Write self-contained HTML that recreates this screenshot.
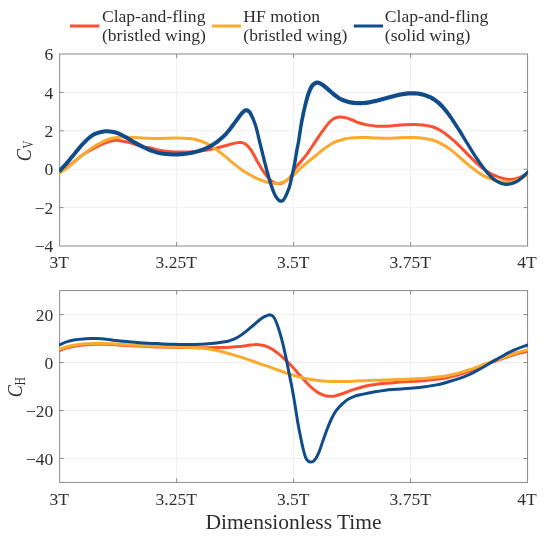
<!DOCTYPE html>
<html><head><meta charset="utf-8"><title>Force coefficients</title>
<style>html,body{margin:0;padding:0;background:#fff}svg{display:block}text{font-family:"Liberation Serif","Times New Roman",serif;fill:#2e2e2e}</style></head>
<body>
<svg width="550" height="537" viewBox="0 0 550 537">
<rect width="550" height="537" fill="#fff"/>
<clipPath id="c1"><rect x="59.15" y="53.50" width="468.90" height="193.00"/></clipPath>
<path d="M176.62,54.0V246.0M293.60,54.0V246.0M410.57,54.0V246.0M59.65,92.40H527.55M59.65,130.80H527.55M59.65,169.20H527.55M59.65,207.60H527.55" stroke="#f0f0f0" stroke-width="1" fill="none"/>
<rect x="59.65" y="54.0" width="467.9" height="192.0" fill="none" stroke="#8a8a8a" stroke-width="1"/>
<path d="M176.62,246.0v-4M176.62,54.0v4M293.60,246.0v-4M293.60,54.0v4M410.57,246.0v-4M410.57,54.0v4M59.65,92.40h4M527.55,92.40h-4M59.65,130.80h4M527.55,130.80h-4M59.65,169.20h4M527.55,169.20h-4M59.65,207.60h4M527.55,207.60h-4" stroke="#8a8a8a" stroke-width="1" fill="none"/>
<g clip-path="url(#c1)" fill="none" stroke-linejoin="round" stroke-linecap="round">
<path d="M58.0,173.2C58.2,173.1 58.2,173.1 59.5,172.3C60.8,171.5 63.6,169.9 66.0,168.2C68.3,166.5 70.8,164.5 73.6,162.2C76.4,159.9 79.8,156.8 82.9,154.6C86.0,152.5 89.1,151.0 92.2,149.3C95.3,147.6 98.5,145.7 101.6,144.4C104.7,143.0 108.4,141.7 110.9,141.0C113.4,140.3 114.0,140.2 116.5,140.3C119.0,140.4 122.7,141.1 125.8,141.8C128.9,142.5 132.0,143.3 135.1,144.2C138.2,145.1 141.9,146.6 144.4,147.2C146.9,147.8 147.5,147.3 150.0,147.8C152.5,148.3 156.2,149.7 159.3,150.3C162.4,150.9 165.5,151.3 168.6,151.6C171.7,151.9 174.8,151.9 177.9,152.0C181.0,152.1 184.1,152.1 187.2,152.0C190.3,151.9 193.5,151.5 196.6,151.2C199.7,150.9 202.8,150.8 205.9,150.3C209.0,149.8 212.1,149.1 215.2,148.4C218.3,147.7 221.4,146.8 224.5,146.0C227.6,145.2 231.2,144.0 233.8,143.4C236.4,142.8 238.4,142.4 240.3,142.5C242.2,142.6 243.2,142.6 245.0,143.8C246.8,145.0 248.8,146.7 250.8,149.6C252.9,152.5 255.3,157.9 257.3,161.4C259.3,164.9 261.0,167.9 262.9,170.7C264.8,173.5 266.6,176.2 268.5,178.2C270.4,180.2 272.2,181.6 274.1,182.5C276.0,183.4 277.8,184.0 279.7,183.8C281.6,183.6 283.4,182.6 285.3,181.3C287.2,180.1 289.3,178.4 290.9,176.3C292.5,174.2 293.4,171.1 295.0,168.7C296.6,166.3 298.7,164.0 300.6,161.7C302.5,159.5 304.3,157.6 306.2,155.1C308.1,152.6 309.9,149.7 311.8,147.0C313.7,144.3 315.5,141.4 317.3,138.7C319.1,136.0 321.0,133.2 322.9,130.6C324.8,128.0 326.6,125.2 328.5,123.2C330.4,121.2 332.2,119.4 334.1,118.4C336.0,117.4 337.8,117.1 339.7,117.0C341.6,116.9 343.4,117.2 345.3,117.6C347.2,118.0 349.3,118.9 350.9,119.5C352.5,120.1 353.8,120.7 355.0,121.2C356.2,121.7 355.9,121.9 357.9,122.5C359.9,123.1 364.1,124.3 367.2,124.9C370.3,125.5 373.5,126.0 376.6,126.2C379.7,126.4 382.8,126.3 385.9,126.2C389.0,126.1 392.1,125.8 395.2,125.5C398.3,125.2 401.4,124.9 404.5,124.7C407.6,124.5 410.7,124.4 413.8,124.4C416.9,124.4 419.9,124.5 423.1,124.9C426.3,125.3 430.1,126.0 433.2,127.0C436.2,128.0 438.7,129.4 441.4,131.1C444.1,132.8 446.9,135.0 449.6,137.2C452.3,139.4 455.1,141.8 457.8,144.4C460.5,147.0 463.3,149.9 466.0,152.6C468.7,155.3 471.5,158.2 474.2,160.8C476.9,163.4 479.7,165.9 482.4,168.0C485.1,170.1 487.8,172.0 490.5,173.5C493.2,175.0 496.0,176.2 498.7,177.2C501.4,178.1 504.5,178.9 506.9,179.2C509.3,179.5 511.1,179.5 513.1,179.2C515.2,178.9 516.9,178.4 519.2,177.6C521.6,176.8 525.6,174.8 527.2,174.1C528.8,173.4 528.5,173.6 528.7,173.4" stroke="#fa5230" stroke-width="3.0"/>
<path d="M58.0,174.3C58.2,174.2 58.2,174.2 59.5,173.3C60.8,172.4 63.6,170.5 66.0,168.8C68.3,167.0 70.8,165.1 73.6,162.7C76.4,160.3 79.8,157.1 82.9,154.6C86.0,152.1 89.1,149.9 92.2,147.8C95.3,145.8 98.5,143.9 101.6,142.4C104.7,140.8 107.8,139.4 110.9,138.5C114.0,137.6 117.1,137.4 120.2,137.2C123.3,137.0 126.4,137.1 129.5,137.2C132.6,137.3 135.7,137.5 138.8,137.7C141.9,137.9 144.7,138.2 148.1,138.3C151.5,138.4 155.9,138.5 159.3,138.5C162.7,138.5 165.5,138.3 168.6,138.2C171.7,138.1 174.8,138.0 177.9,138.0C181.0,138.0 184.1,138.1 187.2,138.4C190.3,138.7 193.5,138.9 196.6,139.7C199.7,140.5 202.8,141.7 205.9,143.2C209.0,144.7 212.1,146.7 215.2,148.8C218.3,150.9 221.4,153.4 224.5,155.9C227.6,158.4 230.7,161.2 233.8,163.7C236.9,166.2 240.4,169.0 243.1,170.8C245.8,172.6 247.5,173.4 249.9,174.7C252.3,176.0 254.8,177.6 257.3,178.7C259.8,179.8 262.3,180.8 264.8,181.5C267.3,182.2 270.0,182.8 272.2,183.2C274.4,183.5 275.9,183.8 277.8,183.6C279.7,183.4 281.5,182.7 283.4,181.9C285.3,181.1 287.1,179.9 289.0,178.7C290.9,177.5 292.7,176.3 294.6,174.5C296.5,172.7 298.7,169.9 300.6,168.1C302.5,166.2 304.3,165.0 306.2,163.4C308.1,161.8 309.9,160.1 311.8,158.6C313.7,157.1 315.5,155.8 317.3,154.3C319.1,152.8 321.0,151.1 322.9,149.7C324.8,148.3 326.6,147.0 328.5,145.8C330.4,144.6 332.2,143.3 334.1,142.4C336.0,141.5 337.8,141.1 339.7,140.5C341.6,139.9 343.4,139.2 345.3,138.8C347.2,138.4 349.3,138.2 350.9,138.0C352.5,137.8 353.6,137.8 355.0,137.7C356.4,137.6 357.0,137.6 359.0,137.6C361.0,137.6 364.3,137.5 367.2,137.6C370.1,137.7 373.5,137.9 376.6,138.0C379.7,138.1 382.8,138.2 385.9,138.2C389.0,138.2 392.1,138.1 395.2,138.0C398.3,137.9 401.4,137.7 404.5,137.6C407.6,137.5 410.7,137.3 413.8,137.4C416.9,137.5 419.9,137.7 423.1,138.2C426.3,138.7 430.1,139.4 433.2,140.3C436.2,141.2 438.7,142.4 441.4,143.8C444.1,145.2 446.9,146.9 449.6,148.9C452.3,150.9 455.1,153.4 457.8,155.7C460.5,158.0 463.3,160.5 466.0,162.8C468.7,165.1 471.5,167.4 474.2,169.4C476.9,171.4 479.7,173.5 482.4,175.1C485.1,176.7 487.8,177.8 490.5,178.8C493.2,179.8 496.0,180.7 498.7,181.3C501.4,181.9 504.2,182.4 506.9,182.3C509.6,182.2 512.7,181.6 515.1,180.9C517.5,180.2 519.3,179.2 521.3,178.2C523.3,177.2 526.0,175.7 527.2,175.1C528.4,174.5 528.5,174.4 528.7,174.3" stroke="#fbaa30" stroke-width="3.0"/>
<path d="M60.5,172.9L60.6,172.7L60.7,172.6L60.9,172.4L61.3,172.0L62.0,171.3L62.9,170.2L64.1,169.0L65.5,167.5L67.0,165.8L68.5,164.2L70.0,162.5L71.4,160.7L72.9,158.8L74.5,156.9L76.1,154.9L77.9,152.8L79.7,150.6L81.6,148.3L83.5,146.1L85.3,144.2L87.2,142.3L89.0,140.6L90.8,139.0L92.5,137.7L94.2,136.5L95.9,135.7L97.8,135.0L99.6,134.4L101.4,134.0L103.0,133.7L104.3,133.4L105.1,133.2L105.9,133.2L106.7,133.2L107.9,133.3L109.5,133.5L111.3,133.7L113.2,134.0L115.1,134.5L116.8,135.0L118.6,135.7L120.3,136.5L122.1,137.5L124.0,138.5L125.8,139.5L127.6,140.6L129.5,141.7L131.3,142.9L133.2,144.0L135.1,145.2L137.1,146.2L139.1,147.2L141.1,148.2L142.9,149.0L144.5,149.8L145.8,150.4L146.9,150.9L147.9,151.4L149.0,151.9L150.3,152.4L152.0,153.0L153.9,153.6L155.9,154.2L157.9,154.8L159.9,155.3L161.7,155.6L163.4,155.8L165.1,156.0L166.8,156.1L168.5,156.2L170.3,156.3L172.2,156.4L174.1,156.4L176.0,156.4L178.0,156.4L179.9,156.3L181.8,156.2L183.7,156.0L185.6,155.8L187.5,155.6L189.4,155.3L191.3,154.9L193.3,154.5L195.2,154.0L197.1,153.5L199.0,153.0L200.9,152.4L202.9,151.8L204.8,151.0L206.7,150.2L208.6,149.3L210.6,148.4L212.5,147.3L214.4,146.1L216.3,144.8L218.3,143.4L220.4,141.7L222.4,140.1L224.2,138.4L225.9,136.8L227.3,135.4L228.5,134.1L229.6,132.8L230.6,131.5L231.7,130.1L232.8,128.7L234.0,127.2L235.1,125.6L236.2,124.1L237.3,122.6L238.5,121.0L239.6,119.4L240.8,117.8L241.8,116.4L242.7,115.3L243.5,114.4L244.2,113.7L244.7,113.2L245.2,112.8L245.7,112.4L246.0,112.2L246.0,112.2L246.0,112.2L246.0,112.2L246.2,112.2L246.5,112.2L246.5,112.2L246.5,112.2L246.5,112.2L246.8,112.4L247.3,112.7L247.7,113.0L248.1,113.3L248.5,113.8L249.2,114.9L250.0,116.4L251.0,118.4L252.1,120.7L253.0,123.2L253.9,125.7L254.7,128.4L255.4,131.2L256.2,134.3L256.9,137.4L257.6,140.4L258.3,143.4L259.1,146.4L259.8,149.3L260.5,152.3L261.3,155.3L262.0,158.3L262.8,161.4L263.6,164.4L264.3,167.4L265.1,170.2L265.8,173.0L266.6,175.7L267.3,178.3L268.1,180.9L268.8,183.3L269.6,185.6L270.3,187.9L271.1,190.0L271.8,192.0L272.6,193.8L273.4,195.4L274.1,196.9L274.9,198.2L275.7,199.3L276.5,200.3L277.4,201.2L278.3,201.9L279.2,202.4L280.2,202.7L281.3,202.8L282.2,202.7L283.2,202.3L284.1,201.7L284.9,200.8L285.7,199.6L286.6,197.9L287.6,195.9L288.7,193.6L289.6,191.3L290.5,188.9L291.2,186.7L291.8,184.5L292.3,182.2L292.8,179.9L293.4,177.6L293.9,175.1L294.5,172.5L295.1,169.8L295.6,167.2L296.2,164.5L296.7,161.9L297.1,159.2L297.5,156.5L298.0,154.0L298.4,151.5L298.8,149.2L299.2,147.2L299.6,145.1L300.0,142.9L300.5,140.3L301.0,137.2L301.5,133.9L302.0,130.4L302.6,126.9L303.2,123.6L303.8,120.5L304.4,117.4L305.0,114.5L305.7,111.6L306.3,108.8L307.0,106.2L307.6,103.6L308.3,101.2L308.9,98.9L309.5,96.9L310.1,95.1L310.6,93.5L311.2,92.2L311.7,90.9L312.3,89.8L312.8,88.8L313.3,87.9L313.7,87.2L314.2,86.6L314.7,86.1L315.2,85.7L315.7,85.3L316.2,85.0L316.6,84.9L317.0,84.8L317.5,84.8L318.1,84.9L318.8,85.1L319.6,85.5L320.5,86.0L321.5,86.7L322.7,87.6L324.0,88.7L325.3,89.8L326.7,91.0L328.2,92.2L329.8,93.6L331.3,94.9L332.9,96.2L334.3,97.4L335.6,98.3L336.7,99.1L337.8,99.9L339.0,100.6L340.3,101.3L341.7,101.9L343.2,102.6L344.8,103.1L346.4,103.6L348.1,104.1L350.0,104.4L351.9,104.7L353.9,104.9L355.9,105.1L357.8,105.2L359.8,105.2L361.7,105.2L363.6,105.1L365.5,104.9L367.5,104.7L369.4,104.4L371.4,104.0L373.3,103.6L375.2,103.2L377.1,102.7L379.0,102.3L380.9,101.8L382.7,101.3L384.6,100.8L386.5,100.3L388.3,99.8L390.2,99.3L392.1,98.7L393.9,98.2L395.7,97.7L397.5,97.3L399.4,96.9L401.2,96.5L403.0,96.2L404.8,95.9L406.6,95.7L408.5,95.5L410.3,95.4L412.1,95.4L413.7,95.4L415.3,95.5L416.7,95.6L418.1,95.8L419.5,96.0L420.8,96.3L421.9,96.5L423.0,96.8L424.1,97.1L425.1,97.5L426.3,98.0L427.4,98.4L428.6,98.8L429.7,99.3L430.8,99.9L432.1,100.7L433.5,101.6L435.1,102.8L436.7,104.0L438.3,105.4L439.9,107.0L441.5,108.6L443.1,110.5L444.7,112.5L446.4,114.6L448.0,116.8L449.7,119.1L451.3,121.5L453.0,123.9L454.6,126.4L456.3,129.0L457.9,131.5L459.6,134.2L461.2,136.8L462.9,139.5L464.6,142.2L466.2,144.8L467.9,147.5L469.5,150.2L471.2,152.9L472.8,155.5L474.5,158.0L476.1,160.5L477.8,162.9L479.4,165.2L481.1,167.5L482.7,169.6L484.4,171.7L486.0,173.8L487.7,175.6L489.3,177.4L491.0,179.0L492.7,180.4L494.5,181.7L496.2,182.8L498.0,183.8L499.7,184.6L501.5,185.2L503.3,185.6L505.1,185.9L506.9,185.9L508.8,185.8L510.6,185.5L512.4,185.0L514.2,184.4L515.8,183.8L517.3,183.1L518.6,182.3L519.9,181.4L521.1,180.4L522.3,179.5L523.7,178.4L525.0,177.1L526.3,175.9L527.5,174.7L528.3,173.9L528.9,173.3L529.3,173.0L529.5,172.8L529.7,172.6L529.8,172.5L527.6,170.1L527.4,170.2L527.3,170.4L527.1,170.6L526.7,170.9L526.1,171.5L525.2,172.4L524.0,173.5L522.8,174.7L521.5,175.9L520.3,176.9L519.1,177.8L518.0,178.7L516.8,179.5L515.7,180.2L514.4,180.8L513.0,181.3L511.5,181.9L509.9,182.3L508.4,182.6L506.9,182.7L505.4,182.6L503.9,182.4L502.4,182.0L500.9,181.5L499.4,180.8L497.9,180.0L496.4,179.0L494.8,177.8L493.2,176.5L491.7,175.0L490.1,173.4L488.5,171.6L486.9,169.7L485.3,167.6L483.7,165.5L482.1,163.3L480.5,161.0L478.9,158.6L477.2,156.2L475.6,153.7L474.0,151.2L472.3,148.5L470.7,145.8L469.1,143.1L467.4,140.4L465.8,137.7L464.2,135.0L462.6,132.3L461.0,129.6L459.3,127.0L457.7,124.4L456.1,121.9L454.5,119.4L452.8,116.9L451.2,114.6L449.5,112.3L447.9,110.1L446.2,107.9L444.6,105.9L442.9,104.0L441.1,102.3L439.4,100.8L437.6,99.4L435.9,98.2L434.3,97.1L432.9,96.2L431.5,95.5L430.1,95.0L428.9,94.5L427.7,94.0L426.6,93.6L425.4,93.2L424.2,92.8L423.0,92.4L421.6,92.1L420.2,91.9L418.8,91.6L417.2,91.4L415.6,91.3L413.9,91.2L412.0,91.2L410.1,91.2L408.2,91.3L406.2,91.5L404.2,91.7L402.3,92.0L400.4,92.4L398.5,92.8L396.6,93.2L394.7,93.7L392.8,94.2L390.9,94.7L389.0,95.2L387.2,95.8L385.3,96.3L383.5,96.8L381.6,97.3L379.8,97.8L378.0,98.2L376.1,98.7L374.3,99.1L372.4,99.5L370.5,99.9L368.7,100.2L366.9,100.5L365.1,100.7L363.3,100.9L361.5,101.0L359.7,101.0L358.0,101.0L356.1,100.9L354.3,100.8L352.5,100.5L350.7,100.3L349.1,99.9L347.5,99.6L346.1,99.1L344.7,98.6L343.4,98.1L342.1,97.5L341.0,96.9L340.1,96.4L339.1,95.7L338.1,94.9L336.9,94.0L335.5,93.0L334.0,91.7L332.5,90.4L330.9,89.0L329.5,87.8L328.1,86.6L326.7,85.5L325.3,84.3L324.0,83.3L322.7,82.4L321.5,81.7L320.3,81.2L319.1,80.8L318.0,80.6L316.8,80.6L315.6,80.8L314.4,81.2L313.4,81.7L312.6,82.4L311.7,83.1L311.0,83.9L310.3,84.8L309.7,85.8L309.1,86.8L308.5,88.0L308.0,89.3L307.4,90.7L306.9,92.2L306.3,93.8L305.7,95.7L305.1,97.8L304.5,100.2L303.9,102.7L303.3,105.3L302.7,108.0L302.0,110.8L301.4,113.7L300.8,116.7L300.2,119.8L299.6,123.0L299.1,126.3L298.6,129.9L298.0,133.4L297.6,136.7L297.1,139.7L296.7,142.3L296.3,144.5L295.9,146.5L295.4,148.6L295.0,150.9L294.6,153.4L294.2,156.0L293.8,158.6L293.3,161.3L292.8,163.9L292.3,166.5L291.8,169.1L291.2,171.8L290.6,174.3L290.0,176.8L289.5,179.2L289.0,181.5L288.5,183.7L288.0,185.8L287.3,187.9L286.5,190.0L285.6,192.3L284.6,194.5L283.7,196.4L282.9,197.8L282.3,198.7L281.8,199.2L281.6,199.3L281.4,199.4L281.1,199.4L280.9,199.4L280.6,199.3L280.1,199.1L279.6,198.7L279.1,198.1L278.4,197.3L277.7,196.3L277.0,195.2L276.3,193.9L275.6,192.4L274.9,190.7L274.2,188.8L273.5,186.8L272.7,184.6L272.0,182.3L271.3,179.9L270.5,177.4L269.8,174.8L269.1,172.1L268.3,169.4L267.6,166.5L266.8,163.6L266.0,160.5L265.3,157.5L264.5,154.5L263.8,151.5L263.0,148.5L262.3,145.6L261.5,142.6L260.8,139.6L260.1,136.6L259.4,133.5L258.7,130.5L257.9,127.5L257.1,124.7L256.1,122.0L255.1,119.4L254.2,117.0L253.2,114.9L252.4,113.1L251.7,111.8L250.9,110.8L250.2,110.0L249.6,109.6L249.2,109.2L248.6,108.8L247.9,108.4L247.2,108.3L246.6,108.2L246.2,108.2L245.8,108.2L245.2,108.3L244.5,108.5L243.9,108.8L243.3,109.2L242.7,109.7L242.1,110.2L241.3,110.9L240.5,111.7L239.7,112.7L238.7,114.0L237.6,115.5L236.4,117.1L235.2,118.7L234.1,120.2L233.0,121.7L231.9,123.3L230.7,124.8L229.6,126.2L228.5,127.7L227.5,129.0L226.5,130.3L225.5,131.4L224.4,132.7L223.1,134.0L221.5,135.4L219.7,137.0L217.8,138.7L215.9,140.2L214.1,141.6L212.3,142.8L210.5,143.8L208.7,144.8L206.9,145.7L205.1,146.6L203.3,147.3L201.5,148.0L199.7,148.6L197.9,149.2L196.1,149.7L194.2,150.2L192.4,150.6L190.6,151.0L188.7,151.3L186.9,151.6L185.1,151.9L183.3,152.1L181.5,152.2L179.7,152.3L177.8,152.4L176.0,152.4L174.2,152.4L172.3,152.4L170.5,152.3L168.7,152.2L167.0,152.1L165.4,152.0L163.9,151.8L162.3,151.6L160.7,151.3L158.9,150.9L157.0,150.4L155.1,149.8L153.3,149.2L151.7,148.6L150.4,148.2L149.5,147.8L148.6,147.3L147.6,146.8L146.3,146.2L144.6,145.4L142.8,144.6L140.9,143.6L138.9,142.6L137.1,141.6L135.3,140.6L133.4,139.5L131.6,138.3L129.7,137.2L127.8,136.1L125.9,135.0L124.0,134.0L122.1,132.9L120.2,132.0L118.2,131.2L116.1,130.6L114.0,130.1L111.9,129.7L110.0,129.5L108.3,129.3L106.9,129.2L105.8,129.2L104.6,129.3L103.5,129.5L102.2,129.7L100.5,130.1L98.6,130.6L96.5,131.2L94.3,132.0L92.2,133.1L90.2,134.4L88.2,136.0L86.3,137.7L84.4,139.5L82.5,141.4L80.5,143.4L78.6,145.7L76.7,148.0L74.8,150.3L73.1,152.4L71.4,154.4L69.8,156.3L68.3,158.2L66.9,159.9L65.5,161.6L64.1,163.2L62.6,164.7L61.2,166.2L60.0,167.5L59.0,168.5L58.4,169.2L58.0,169.7L57.8,169.9L57.7,170.0L57.5,170.2Z" fill="#104c8a" stroke="none"/>
</g>
<text x="59.2" y="268.3" font-size="17.5" text-anchor="middle">3T</text>
<text x="176.2" y="268.3" font-size="17.5" text-anchor="middle">3.25T</text>
<text x="293.2" y="268.3" font-size="17.5" text-anchor="middle">3.5T</text>
<text x="410.2" y="268.3" font-size="17.5" text-anchor="middle">3.75T</text>
<text x="527.1" y="268.3" font-size="17.5" text-anchor="middle">4T</text>
<text x="53.3" y="60.2" font-size="17.5" text-anchor="end">6</text>
<text x="53.3" y="98.6" font-size="17.5" text-anchor="end">4</text>
<text x="53.3" y="137.0" font-size="17.5" text-anchor="end">2</text>
<text x="53.3" y="175.4" font-size="17.5" text-anchor="end">0</text>
<text x="53.3" y="213.8" font-size="17.5" text-anchor="end">−2</text>
<text x="53.3" y="252.2" font-size="17.5" text-anchor="end">−4</text>
<clipPath id="c2"><rect x="59.15" y="290.10" width="468.90" height="192.80"/></clipPath>
<path d="M176.62,290.6V482.4M293.60,290.6V482.4M410.57,290.6V482.4M59.65,314.58H527.55M59.65,362.52H527.55M59.65,410.48H527.55M59.65,458.42H527.55" stroke="#f0f0f0" stroke-width="1" fill="none"/>
<rect x="59.65" y="290.6" width="467.9" height="191.79999999999995" fill="none" stroke="#8a8a8a" stroke-width="1"/>
<path d="M176.62,482.4v-4M176.62,290.6v4M293.60,482.4v-4M293.60,290.6v4M410.57,482.4v-4M410.57,290.6v4M59.65,314.58h4M527.55,314.58h-4M59.65,362.52h4M527.55,362.52h-4M59.65,410.48h4M527.55,410.48h-4M59.65,458.42h4M527.55,458.42h-4" stroke="#8a8a8a" stroke-width="1" fill="none"/>
<g clip-path="url(#c2)" fill="none" stroke-linejoin="round" stroke-linecap="round">
<path d="M58.0,350.9C58.2,350.8 58.0,350.9 59.5,350.4C61.0,349.9 64.6,348.5 67.3,347.8C70.0,347.1 72.4,346.6 75.5,346.1C78.6,345.6 82.3,345.1 85.7,344.8C89.1,344.5 92.6,344.4 96.0,344.3C99.4,344.2 102.8,344.2 106.2,344.3C109.6,344.4 113.0,344.6 116.4,344.8C119.8,345.0 123.3,345.3 126.7,345.5C130.1,345.7 133.5,345.8 136.9,346.0C140.3,346.2 143.3,346.4 147.2,346.5C151.0,346.6 154.4,346.8 160.0,346.9C165.6,347.0 173.7,347.2 180.5,347.4C187.3,347.5 194.8,347.8 201.0,347.8C207.2,347.8 212.6,347.7 217.4,347.6C222.2,347.5 225.5,347.5 229.6,347.3C233.7,347.0 238.5,346.5 241.9,346.2C245.3,345.8 247.7,345.4 250.1,345.1C252.5,344.9 254.5,344.6 256.3,344.6C258.1,344.6 259.3,344.7 261.1,345.1C262.9,345.4 265.2,345.8 267.3,346.6C269.4,347.5 271.3,348.6 273.4,349.9C275.4,351.3 277.6,352.9 279.6,354.6C281.7,356.3 283.6,358.3 285.7,360.2C287.8,362.1 289.8,364.1 291.9,366.2C293.9,368.4 295.9,370.9 298.0,373.2C300.1,375.5 302.1,377.8 304.2,380.0C306.2,382.2 308.3,384.6 310.3,386.5C312.3,388.4 314.3,390.0 316.4,391.4C318.4,392.8 320.6,394.0 322.6,394.8C324.7,395.6 326.6,396.1 328.7,396.3C330.8,396.4 332.5,396.3 334.9,395.9C337.3,395.4 340.0,394.5 343.1,393.5C346.2,392.5 349.7,390.9 353.3,389.7C356.9,388.5 361.4,387.1 365.0,386.2C368.6,385.3 371.8,385.0 375.2,384.5C378.6,384.0 382.1,383.6 385.5,383.3C388.9,383.0 392.3,382.8 395.7,382.5C399.1,382.2 402.6,382.0 406.0,381.8C409.4,381.6 412.8,381.4 416.2,381.2C419.6,381.0 423.0,380.7 426.4,380.4C429.8,380.1 433.3,379.8 436.7,379.3C440.1,378.9 443.5,378.5 446.9,377.8C450.3,377.1 453.9,376.1 457.2,375.2C460.5,374.2 463.8,373.1 466.8,372.1C469.8,371.0 472.2,370.0 475.0,368.9C477.8,367.8 480.7,366.7 483.5,365.6C486.3,364.5 489.1,363.3 491.9,362.3C494.7,361.3 497.5,360.3 500.3,359.4C503.1,358.4 505.9,357.5 508.7,356.6C511.5,355.7 513.9,354.8 517.0,353.9C520.1,353.0 525.2,351.9 527.2,351.4C529.2,350.9 528.5,351.1 528.7,351.0" stroke="#fa5230" stroke-width="3.0"/>
<path d="M58.0,349.7C58.2,349.6 58.0,349.7 59.5,349.2C61.0,348.7 64.6,347.4 67.3,346.7C70.0,346.0 72.4,345.6 75.5,345.1C78.6,344.6 82.3,344.1 85.7,343.8C89.1,343.5 92.6,343.5 96.0,343.4C99.4,343.3 102.8,343.3 106.2,343.4C109.6,343.5 113.0,343.8 116.4,344.0C119.8,344.2 123.3,344.5 126.7,344.7C130.1,344.9 133.5,345.1 136.9,345.3C140.3,345.5 143.3,345.8 147.2,345.9C151.0,346.0 154.4,346.0 160.0,346.2C165.6,346.4 173.7,346.7 180.5,347.0C187.3,347.3 195.9,347.6 201.0,348.0C206.1,348.4 207.8,348.9 211.2,349.5C214.6,350.1 218.0,350.7 221.4,351.5C224.8,352.3 228.3,353.4 231.7,354.4C235.1,355.4 238.5,356.4 241.9,357.5C245.3,358.6 248.8,359.8 252.2,361.0C255.6,362.2 259.4,363.6 262.4,364.6C265.4,365.6 267.8,366.3 270.0,367.1C272.2,367.9 272.9,368.2 275.5,369.2C278.1,370.1 282.3,371.6 285.7,372.8C289.1,374.0 292.6,375.1 296.0,376.1C299.4,377.1 302.8,377.9 306.2,378.6C309.6,379.3 313.0,379.8 316.4,380.2C319.8,380.6 323.3,381.0 326.7,381.2C330.1,381.4 333.5,381.6 336.9,381.6C340.3,381.6 343.8,381.5 347.2,381.4C350.6,381.3 354.4,381.1 357.4,381.0C360.4,380.9 362.0,380.8 365.0,380.7C368.0,380.6 371.8,380.4 375.2,380.3C378.6,380.2 382.1,380.1 385.5,380.0C388.9,379.9 392.3,379.7 395.7,379.6C399.1,379.5 402.6,379.3 406.0,379.2C409.4,379.1 412.8,379.0 416.2,378.8C419.6,378.6 423.0,378.5 426.4,378.2C429.8,377.9 433.3,377.5 436.7,377.1C440.1,376.7 443.5,376.3 446.9,375.7C450.3,375.1 453.9,374.4 457.2,373.5C460.5,372.6 463.8,371.4 466.8,370.5C469.8,369.6 472.2,368.8 475.0,367.8C477.8,366.8 480.7,365.5 483.5,364.5C486.3,363.5 489.1,362.6 491.9,361.6C494.7,360.6 497.5,359.6 500.3,358.6C503.1,357.6 505.9,356.6 508.7,355.6C511.5,354.6 513.9,353.6 517.0,352.7C520.1,351.8 525.2,350.4 527.2,349.9C529.2,349.4 528.5,349.6 528.7,349.5" stroke="#fbaa30" stroke-width="3.0"/>
<path d="M58.0,345.3C58.2,345.2 58.0,345.3 59.5,344.7C61.0,344.1 64.6,342.4 67.3,341.6C70.0,340.8 72.4,340.2 75.5,339.7C78.6,339.2 83.1,339.0 85.7,338.8C88.3,338.6 89.3,338.6 91.0,338.6C92.7,338.6 93.5,338.5 96.0,338.6C98.5,338.7 102.8,338.9 106.2,339.2C109.6,339.5 113.0,340.2 116.4,340.6C119.8,341.0 123.3,341.3 126.7,341.6C130.1,341.9 133.5,342.1 136.9,342.4C140.3,342.7 143.8,343.0 147.2,343.2C150.6,343.4 153.6,343.4 157.4,343.6C161.2,343.8 166.3,344.1 170.2,344.2C174.0,344.3 177.1,344.4 180.5,344.4C183.9,344.4 187.3,344.4 190.7,344.4C194.1,344.4 197.6,344.3 201.0,344.2C204.4,344.1 207.8,343.8 211.2,343.5C214.6,343.2 218.3,342.8 221.4,342.3C224.5,341.8 226.9,341.5 229.6,340.7C232.3,339.8 235.1,338.7 237.8,337.2C240.5,335.7 243.3,333.5 246.0,331.4C248.7,329.3 251.8,326.5 254.2,324.5C256.6,322.5 258.5,320.7 260.4,319.3C262.3,317.9 263.9,316.9 265.5,316.2C267.1,315.4 268.4,314.7 269.7,314.7C271.0,314.8 272.3,315.2 273.4,316.6C274.5,317.9 275.5,320.1 276.5,322.7C277.5,325.3 278.6,328.5 279.6,331.9C280.6,335.3 281.7,339.0 282.7,343.1C283.7,347.2 284.7,351.6 285.7,356.4C286.7,361.2 287.8,366.7 288.8,371.8C289.8,376.9 290.8,381.4 291.9,387.2C293.0,393.0 294.3,400.7 295.3,406.7C296.3,412.7 296.9,417.8 297.9,423.1C298.8,428.4 299.9,433.7 300.9,438.5C301.9,443.3 302.9,448.3 303.9,451.8C304.8,455.3 305.5,457.7 306.6,459.4C307.7,461.1 309.2,462.0 310.5,462.1C311.8,462.2 313.3,461.7 314.7,460.0C316.1,458.3 317.7,455.1 319.1,451.8C320.5,448.5 321.8,444.0 323.2,440.1C324.6,436.2 325.9,432.2 327.3,428.7C328.7,425.2 329.9,422.1 331.4,419.0C332.9,415.9 334.6,412.8 336.5,410.2C338.4,407.6 340.7,405.5 342.6,403.7C344.6,401.9 346.0,400.5 348.1,399.2C350.3,397.9 353.0,396.7 355.6,395.8C358.1,395.0 360.0,394.8 363.3,394.1C366.6,393.4 371.5,392.4 375.2,391.8C378.9,391.2 382.1,390.7 385.5,390.2C388.9,389.8 392.3,389.6 395.7,389.3C399.1,389.0 402.6,388.8 406.0,388.5C409.4,388.2 412.8,388.1 416.2,387.7C419.6,387.4 423.0,386.9 426.4,386.5C429.8,386.0 433.3,385.6 436.7,384.9C440.1,384.2 443.5,383.2 446.9,382.2C450.3,381.2 453.9,380.2 457.2,379.1C460.5,378.0 463.8,376.9 466.8,375.6C469.8,374.4 472.3,373.1 475.1,371.6C477.9,370.2 480.7,368.6 483.5,367.0C486.3,365.4 489.1,363.6 491.9,362.0C494.7,360.4 497.5,358.9 500.3,357.3C503.1,355.8 505.9,354.1 508.7,352.7C511.5,351.3 513.9,350.1 517.0,348.9C520.1,347.6 525.2,345.9 527.2,345.2C529.2,344.5 528.5,344.7 528.7,344.7" stroke="#104c8a" stroke-width="3.0"/>
</g>
<text x="59.2" y="504.7" font-size="17.5" text-anchor="middle">3T</text>
<text x="176.2" y="504.7" font-size="17.5" text-anchor="middle">3.25T</text>
<text x="293.2" y="504.7" font-size="17.5" text-anchor="middle">3.5T</text>
<text x="410.2" y="504.7" font-size="17.5" text-anchor="middle">3.75T</text>
<text x="527.1" y="504.7" font-size="17.5" text-anchor="middle">4T</text>
<text x="53.3" y="320.8" font-size="17.5" text-anchor="end">20</text>
<text x="53.3" y="368.7" font-size="17.5" text-anchor="end">0</text>
<text x="53.3" y="416.7" font-size="17.5" text-anchor="end">−20</text>
<text x="53.3" y="464.6" font-size="17.5" text-anchor="end">−40</text>
<text transform="translate(31.0,161.2) rotate(-90) scale(0.9,1)" font-size="20" font-style="italic">C</text>
<text transform="translate(32.8,148.6) rotate(-90) scale(0.8,1)" font-size="13.8">V</text>
<text transform="translate(21.6,397.3) rotate(-90) scale(0.9,1)" font-size="20" font-style="italic">C</text>
<text transform="translate(24.5,385.2) rotate(-90) scale(0.8,1)" font-size="13.8">H</text>
<text x="293.5" y="528.6" font-size="21.5" text-anchor="middle">Dimensionless Time</text>
<path d="M70,26H99.3" stroke="#fa5230" stroke-width="3" fill="none"/>
<text x="101.9" y="22.3" font-size="17.6">Clap-and-fling</text>
<text x="101.9" y="41.2" font-size="17.6">(bristled wing)</text>
<path d="M212,26H241" stroke="#fbaa30" stroke-width="3" fill="none"/>
<text x="243.3" y="22.3" font-size="17.6">HF motion</text>
<text x="243.3" y="41.2" font-size="17.6">(bristled wing)</text>
<path d="M353.8,26H383" stroke="#104c8a" stroke-width="3" fill="none"/>
<text x="384.8" y="22.3" font-size="17.6">Clap-and-fling</text>
<text x="384.8" y="41.2" font-size="17.6">(solid wing)</text>
</svg>
</body></html>
